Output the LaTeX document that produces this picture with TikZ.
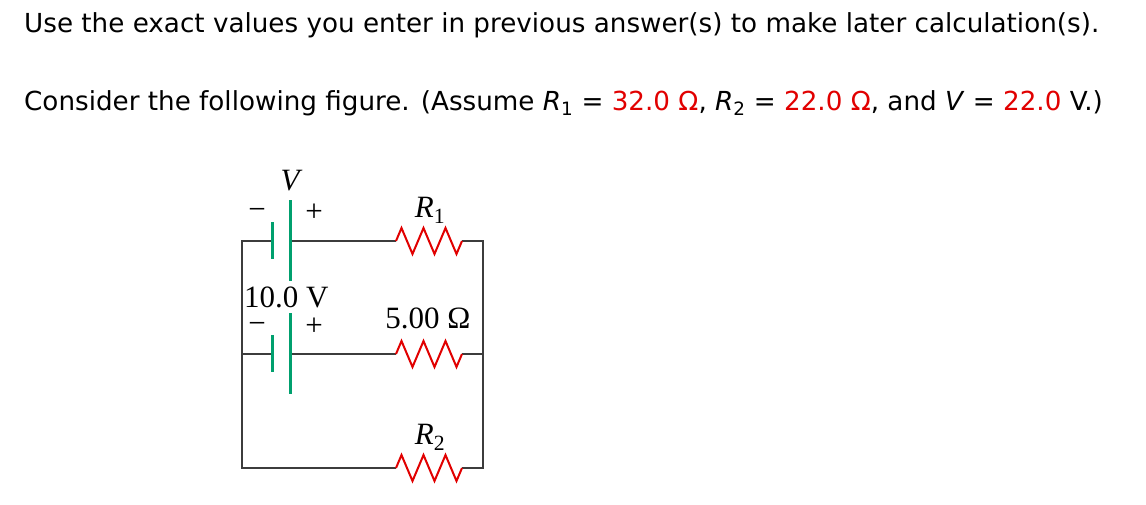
\documentclass[tikz,border=0pt]{standalone}
\usepackage{fontspec}
\newfontfamily\uisans{DejaVu Sans}
\setmainfont{Liberation Serif}
\definecolor{bgreen}{RGB}{0,160,110}
\definecolor{rred}{RGB}{225,0,0}
\definecolor{wire}{RGB}{60,60,60}
\begin{document}
\begin{tikzpicture}[x=1pt,y=-1pt,
  wireline/.style={draw=wire,line width=1.6pt},
  plate/.style={draw=bgreen,line width=3pt},
  res/.style={draw=rred,line width=2pt,line join=miter},
  lbl/.style={inner sep=0pt,font=\fontsize{31}{31}\selectfont},
  hdr/.style={inner sep=0pt,anchor=west,font=\uisans\fontsize{26.2}{26}\selectfont}]
\useasboundingbox (0,0) rectangle (1146,504);
\node[hdr] (l1) at (24,25) {Use the exact values you enter in previous answer(s) to make later calculation(s).};
\node[hdr] (l2) at (24,103) {Consider the following figure. (Assume \textit{R}\textsubscript{1} = {\color{rred}32.0~Ω}, \textit{R}\textsubscript{2} = {\color{rred}22.0~Ω}, and \textit{V} = {\color{rred}22.0} V.)};
\coordinate (tl) at (242,241); \coordinate (tr) at (483,241);
\coordinate (ml) at (242,354); \coordinate (mr) at (483,354);
\coordinate (bl) at (242,468); \coordinate (br) at (483,468);
\coordinate (b1n) at (272,241); \coordinate (b1p) at (290,241);
\coordinate (b2n) at (272,354); \coordinate (b2p) at (290,354);
\coordinate (r1a) at (396,241); \coordinate (r1b) at (462,241);
\coordinate (r3a) at (396,354); \coordinate (r3b) at (462,354);
\coordinate (r2a) at (396,468); \coordinate (r2b) at (462,468);
\draw[wireline] (b1n) -- (tl) -- (bl) -- (r2a);
\draw[wireline] (r2b) -- (br) -- (tr) -- (r1b);
\draw[wireline] (b1p) -- (r1a);
\draw[wireline] (ml) -- (b2n); \draw[wireline] (b2p) -- (r3a); \draw[wireline] (r3b) -- (mr);
\foreach \y in {241,354}{
  \draw[plate] (272,\y-19) -- (272,\y+18);
  \draw[plate] (290,\y-41) -- (290,\y+40);
}
\foreach \a/\b in {r1a/r1b,r3a/r3b,r2a/r2b}{
  \draw[res] (\a) -- ++(5.5,-13) -- ++(11,26) -- ++(11,-26) -- ++(11,26) -- ++(11,-26) -- ++(11,26) -- (\b);
}
\node[lbl,font=\itshape\fontsize{31}{31}\selectfont] (vl) at (290,181) {V};
\node[lbl] (m1) at (257,214) {−}; \node[lbl] (p1) at (314,213) {+};
\node[lbl] (m2) at (257,328) {−}; \node[lbl] (p2) at (314,327) {+};
\node[lbl,anchor=west] (tv) at (244,297) {10.0 V};
\node[lbl] (r1l) at (430,210) {\textit{R}\textsubscript{1}};
\node[lbl] (r3l) at (428,318) {5.00 Ω};
\node[lbl] (r2l) at (430,437) {\textit{R}\textsubscript{2}};
\end{tikzpicture}
\end{document}
